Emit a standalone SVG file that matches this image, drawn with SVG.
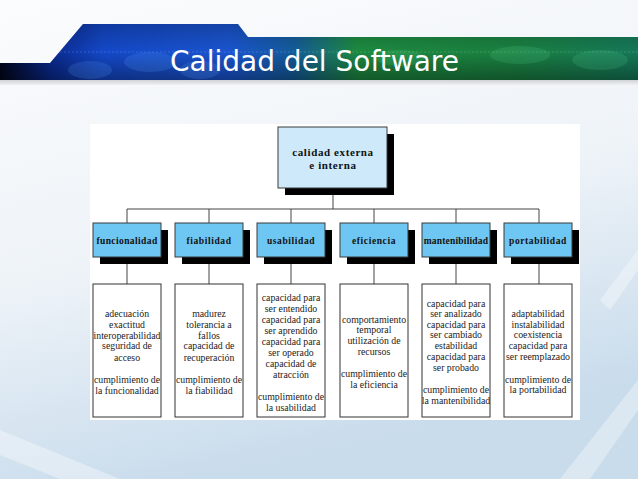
<svg xmlns="http://www.w3.org/2000/svg" width="638" height="479" viewBox="0 0 638 479">
<defs>
<linearGradient id="bg" x1="0" y1="0" x2="0.3" y2="1">
<stop offset="0" stop-color="#fbfcfd"/>
<stop offset="0.55" stop-color="#eef3f8"/>
<stop offset="1" stop-color="#c9dcec"/>
</linearGradient>
<linearGradient id="ban" x1="0" y1="0" x2="1" y2="0">
<stop offset="0" stop-color="#02061a"/>
<stop offset="0.08" stop-color="#0a2a90"/>
<stop offset="0.16" stop-color="#1448c8"/>
<stop offset="0.36" stop-color="#1a55d0"/>
<stop offset="0.46" stop-color="#145c9a"/>
<stop offset="0.56" stop-color="#1d8a40"/>
<stop offset="0.8" stop-color="#1a8040"/>
<stop offset="1" stop-color="#157858"/>
</linearGradient>
<linearGradient id="banShade" x1="0" y1="0" x2="0" y2="1">
<stop offset="0" stop-color="#000" stop-opacity="0.2"/>
<stop offset="0.5" stop-color="#000" stop-opacity="0"/>
<stop offset="1" stop-color="#000" stop-opacity="0.35"/>
</linearGradient>
<linearGradient id="strip" x1="0" y1="0" x2="0" y2="1">
<stop offset="0" stop-color="#cfd3d6"/>
<stop offset="1" stop-color="#eef0f2"/>
</linearGradient>
<style>
.title{font-family:"DejaVu Sans",Verdana,sans-serif;font-size:28px;fill:#ffffff}
.top{fill:#cde9fa;stroke:#3a3a3a;stroke-width:1}
.mid{fill:#6ec6f2;stroke:#3a3a3a;stroke-width:1}
.sh{fill:#000}
.leaf{fill:#ffffff;stroke:#333;stroke-width:1}
.lt{font-family:"Liberation Serif","DejaVu Serif","Times New Roman",serif;font-weight:bold;fill:#111;text-anchor:middle}
.lb{font-family:"Liberation Serif","DejaVu Serif","Times New Roman",serif;font-size:9.8px;fill:#222;text-anchor:middle}
.con{stroke:#444;stroke-width:1;fill:none}
</style>
</defs>
<rect x="0" y="0" width="638" height="479" fill="url(#bg)"/>
<g opacity="0.35" fill="#ffffff">
<polygon points="0,430 120,479 60,479 0,455"/>
<polygon points="560,479 638,380 638,410 590,479"/>
<polygon points="600,300 638,250 638,270 610,310"/>
</g>
<g id="banner">
<polygon points="83,24 238,24 248,37 638,37 638,80 0,80 0,63 50,63" fill="url(#ban)"/>
<polygon points="83,24 238,24 248,37 638,37 638,80 0,80 0,63 50,63" fill="url(#banShade)"/>
<g fill="#5aa0ff" opacity="0.18">
<ellipse cx="90" cy="70" rx="22" ry="9"/>
<ellipse cx="150" cy="62" rx="26" ry="10"/>
<ellipse cx="200" cy="70" rx="20" ry="9"/>
</g>
<g fill="#60e0a0" opacity="0.15">
<ellipse cx="520" cy="55" rx="30" ry="9"/>
<ellipse cx="600" cy="60" rx="28" ry="10"/>
<ellipse cx="400" cy="58" rx="24" ry="8"/>
</g>
<line x1="60" y1="52" x2="638" y2="52" stroke="#ffffff" stroke-opacity="0.15" stroke-width="1" stroke-dasharray="2 2"/>
<rect x="0" y="80" width="638" height="5" fill="url(#strip)"/>
<text class="title" x="170" y="71">Calidad del Software</text>
</g>
<rect x="90" y="124" width="490" height="296" fill="#ffffff"/>
<g id="connectors" class="con">
<line x1="333" y1="188" x2="333" y2="209"/>
<line x1="127" y1="209" x2="539" y2="209"/>
<line x1="127" y1="209" x2="127" y2="223"/>
<line x1="209" y1="209" x2="209" y2="223"/>
<line x1="291" y1="209" x2="291" y2="223"/>
<line x1="374" y1="209" x2="374" y2="223"/>
<line x1="456" y1="209" x2="456" y2="223"/>
<line x1="539" y1="209" x2="539" y2="223"/>
<line x1="127" y1="257" x2="127" y2="284"/>
<line x1="209" y1="257" x2="209" y2="284"/>
<line x1="291" y1="257" x2="291" y2="284"/>
<line x1="374" y1="257" x2="374" y2="284"/>
<line x1="456" y1="257" x2="456" y2="284"/>
<line x1="539" y1="257" x2="539" y2="284"/>
</g>
<g id="root">
<rect class="sh" x="285" y="134" width="109" height="61"/>
<rect class="top" x="278" y="127" width="109" height="61"/>
<text class="lt" font-size="11" letter-spacing="0.6" x="333" y="155.5">calidad externa</text>
<text class="lt" font-size="11" letter-spacing="0.6" x="333" y="168.5">e interna</text>
</g>
<g id="funcionalidad">
<rect class="sh" x="100" y="230" width="68" height="34"/>
<rect class="mid" x="93" y="223" width="68" height="34"/>
<text class="lt" font-size="9.5" letter-spacing="0.4" x="127" y="244">funcionalidad</text>
</g>
<g id="fiabilidad">
<rect class="sh" x="182" y="230" width="68" height="34"/>
<rect class="mid" x="175" y="223" width="68" height="34"/>
<text class="lt" font-size="9.5" letter-spacing="0.6" x="209" y="244">fiabilidad</text>
</g>
<g id="usabilidad">
<rect class="sh" x="264" y="230" width="68" height="34"/>
<rect class="mid" x="257" y="223" width="68" height="34"/>
<text class="lt" font-size="9.5" letter-spacing="0.6" x="291" y="244">usabilidad</text>
</g>
<g id="eficiencia">
<rect class="sh" x="347" y="230" width="68" height="34"/>
<rect class="mid" x="340" y="223" width="68" height="34"/>
<text class="lt" font-size="9.5" letter-spacing="0.6" x="374" y="244">eficiencia</text>
</g>
<g id="mantenibilidad">
<rect class="sh" x="429" y="230" width="68" height="34"/>
<rect class="mid" x="422" y="223" width="68" height="34"/>
<text class="lt" font-size="9.5" letter-spacing="0.2" x="456" y="244">mantenibilidad</text>
</g>
<g id="portabilidad">
<rect class="sh" x="511" y="230" width="68" height="34"/>
<rect class="mid" x="504" y="223" width="68" height="34"/>
<text class="lt" font-size="9.5" letter-spacing="0.6" x="538" y="244">portabilidad</text>
</g>
<g id="det-funcionalidad">
<rect class="leaf" x="93" y="284" width="68" height="133"/>
<text class="lb" x="127" y="316.5">adecuación</text>
<text class="lb" x="127" y="327.5">exactitud</text>
<text class="lb" x="127" y="338.5">interoperabilidad</text>
<text class="lb" x="127" y="349">seguridad de</text>
<text class="lb" x="127" y="360.5">acceso</text>
<text class="lb" x="127" y="382.5">cumplimiento de</text>
<text class="lb" x="127" y="393.5">la funcionalidad</text>
</g>
<g id="det-fiabilidad">
<rect class="leaf" x="175" y="284" width="68" height="133"/>
<text class="lb" x="209" y="316.5">madurez</text>
<text class="lb" x="209" y="327.5">tolerancia a</text>
<text class="lb" x="209" y="338.5">fallos</text>
<text class="lb" x="209" y="349">capacidad de</text>
<text class="lb" x="209" y="360.5">recuperación</text>
<text class="lb" x="209" y="382.5">cumplimiento de</text>
<text class="lb" x="209" y="393.5">la fiabilidad</text>
</g>
<g id="det-usabilidad">
<rect class="leaf" x="257" y="284" width="68" height="133"/>
<text class="lb" x="291" y="300.5">capacidad para</text>
<text class="lb" x="291" y="311.5">ser entendido</text>
<text class="lb" x="291" y="322.5">capacidad para</text>
<text class="lb" x="291" y="333.5">ser aprendido</text>
<text class="lb" x="291" y="344.5">capacidad para</text>
<text class="lb" x="291" y="355.5">ser operado</text>
<text class="lb" x="291" y="366.5">capacidad de</text>
<text class="lb" x="291" y="377.5">atracción</text>
<text class="lb" x="291" y="399.5">cumplimiento de</text>
<text class="lb" x="291" y="410.5">la usabilidad</text>
</g>
<g id="det-eficiencia">
<rect class="leaf" x="340" y="284" width="68" height="133"/>
<text class="lb" x="374" y="322.5">comportamiento</text>
<text class="lb" x="374" y="333">temporal</text>
<text class="lb" x="374" y="344">utilización de</text>
<text class="lb" x="374" y="354.5">recursos</text>
<text class="lb" x="374" y="376.5">cumplimiento de</text>
<text class="lb" x="374" y="387.5">la eficiencia</text>
</g>
<g id="det-mantenibilidad">
<rect class="leaf" x="422" y="284" width="68" height="133"/>
<text class="lb" x="456" y="306.5">capacidad para</text>
<text class="lb" x="456" y="317">ser analizado</text>
<text class="lb" x="456" y="327.5">capacidad para</text>
<text class="lb" x="456" y="338">ser cambiado</text>
<text class="lb" x="456" y="348.5">estabilidad</text>
<text class="lb" x="456" y="359.5">capacidad para</text>
<text class="lb" x="456" y="370.5">ser probado</text>
<text class="lb" x="456" y="392.5">cumplimiento de</text>
<text class="lb" x="456" y="403.5">la mantenibilidad</text>
</g>
<g id="det-portabilidad">
<rect class="leaf" x="504" y="284" width="68" height="133"/>
<text class="lb" x="538" y="316.5">adaptabilidad</text>
<text class="lb" x="538" y="327.5">instalabilidad</text>
<text class="lb" x="538" y="338">coexistencia</text>
<text class="lb" x="538" y="348.5">capacidad para</text>
<text class="lb" x="538" y="359.5">ser reemplazado</text>
<text class="lb" x="538" y="382.5">cumplimiento de</text>
<text class="lb" x="538" y="392.5">la portabilidad</text>
</g>
</svg>
